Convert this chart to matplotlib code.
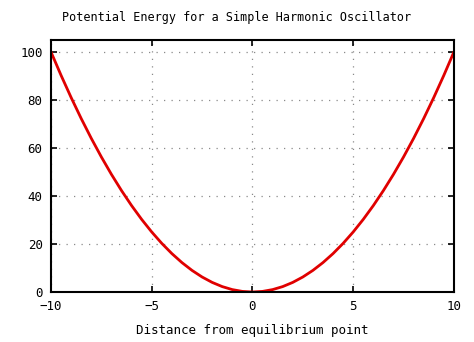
import matplotlib
matplotlib.use("Agg")
import matplotlib.pyplot as plt

# Values (parabola-shaped potential energy curve)
distance = [-10, -9.5, -9, -8.5, -8, -7.5, -7, -6.5, -6, -5.5, -5, -4.5, -4, -3.5, -3,
            -2.5, -2, -1.5, -1, -0.5, 0, 0.5, 1, 1.5, 2, 2.5, 3, 3.5, 4, 4.5, 5,
            5.5, 6, 6.5, 7, 7.5, 8, 8.5, 9, 9.5, 10]
energy = [100, 90.25, 81, 72.25, 64, 56.25, 49, 42.25, 36, 30.25, 25, 20.25, 16, 12.25, 9,
          6.25, 4, 2.25, 1, 0.25, 0, 0.25, 1, 2.25, 4, 6.25, 9, 12.25, 16, 20.25, 25,
          30.25, 36, 42.25, 49, 56.25, 64, 72.25, 81, 90.25, 100]
xticks = [-10, -5, 0, 5, 10]
yticks = [0, 20, 40, 60, 80, 100]

plt.rcParams['font.family'] = ['DejaVu Sans Mono']
fig = plt.figure(figsize=(4.74, 3.42), dpi=100)
ax = fig.add_axes([0.1076, 0.1462, 0.850, 0.737])
ax.plot(distance, energy, color='#e00000', lw=2.0)
ax.set_xlim(-10, 10)
ax.set_ylim(0, 105)
ax.set_xticks(xticks)
ax.set_yticks(yticks)
ax.grid(True, color='#8a8a8a', linestyle=(0, (1, 5)), lw=0.9)
ax.tick_params(direction='in', top=True, right=True, length=4, width=1.2, labelsize=9, pad=6)
for s in ax.spines.values():
    s.set_linewidth(1.5)
fig.text(0.5, 1 - 18 / 342, 'Potential Energy for a Simple Harmonic Oscillator',
         fontsize=8.5, ha='center', va='center')
ax.set_xlabel('Distance from equilibrium point', fontsize=9, labelpad=8)
fig.savefig('out.png', dpi=100)
